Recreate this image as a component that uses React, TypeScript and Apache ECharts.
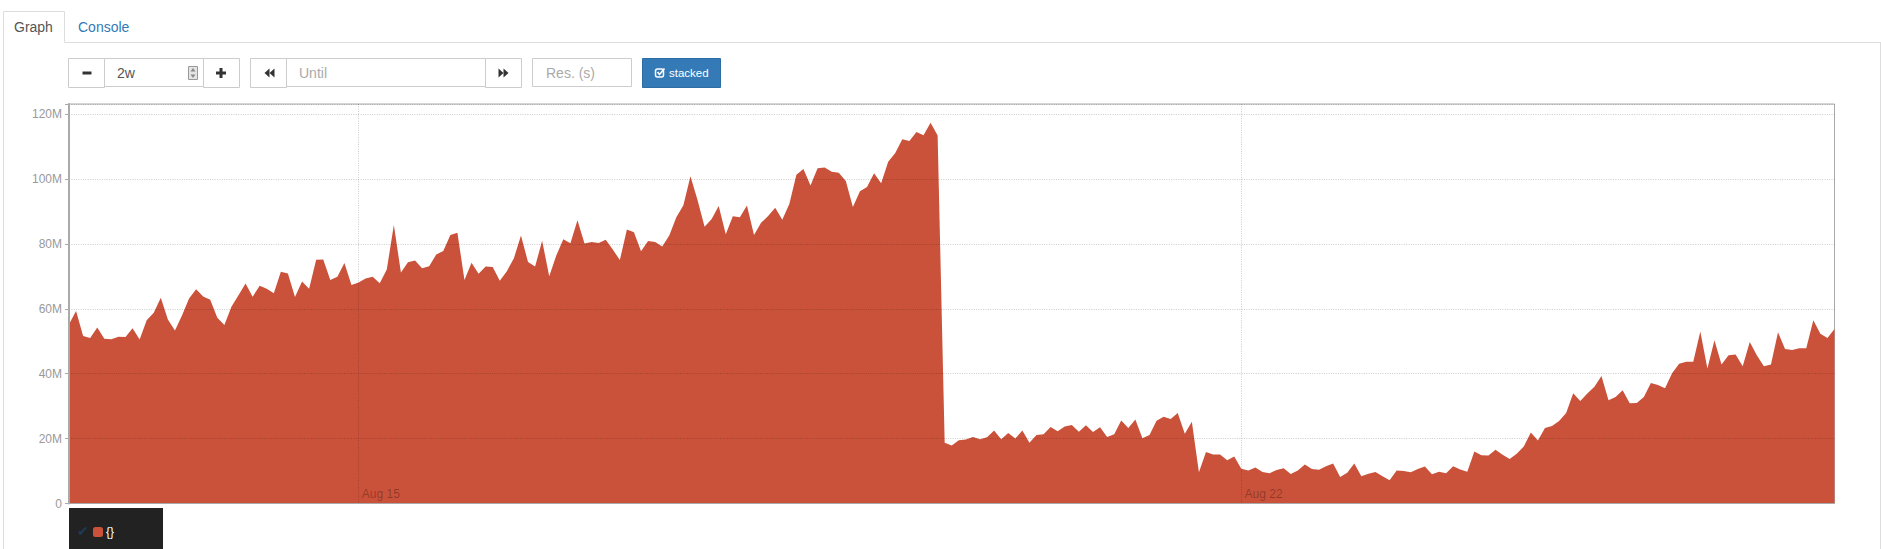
import React, { useEffect, useRef } from "react";
import * as echarts from "echarts";

const seriesName = "{}";
const firstSample = Date.UTC(2017, 7, 15) - 2.294 * 86400000;
const lastSample = firstSample + 14 * 86400000;

// values in millions
const valuesM = [
  55.2, 59.3, 51.6, 51, 54.2, 50.8, 50.6, 51.4, 51.3, 54, 50.5, 56.5, 58.8, 63.4, 56.7, 53.3,
  57.9, 63.2, 66, 63.8, 62.8, 57.2, 55, 60.6, 64.2, 67.8, 63.7, 67.1, 66.2, 64.8, 71.4, 70.9,
  63.6, 68.4, 66.2, 75.1, 75.2, 68.9, 69.9, 74.1, 67.3, 68.1, 69.3, 69.9, 67.9, 72.1, 85.8, 71.2,
  74.3, 74.9, 72.5, 73.1, 76.7, 77.8, 82.7, 83.4, 68.9, 74.2, 70.8, 73, 72.9, 68.6,
  71.6, 75.6, 82.6, 74.4, 73, 81, 70, 76.4, 81.4, 80.2, 87.3, 80.1, 80.6, 80.3, 81.3, 78.3,
  75, 84.4, 83.6, 77.7, 80.9, 80.6, 79.2, 82.6, 88.2, 91.9, 100.8, 93.5, 85.3, 87.7, 91.7, 83,
  88.5, 88.2, 91.8, 82.7, 86.5, 88.6, 91.1, 87.4, 92.3, 101.3, 103.1, 98, 103.3, 103.5, 102.2, 101.9,
  99.4, 91.4, 96.2, 97.5, 101.8, 98.7, 105.3, 108, 112.2, 111.7, 114.5, 113.5, 117.3, 113.4,
  18.7, 17.9, 19.5, 19.7, 20.5, 19.8, 20.4, 22.5, 19.8, 21.7, 20, 22.5, 18.7, 21.1, 21.3, 23.6,
  22.3, 23.7, 24.2, 22.1, 24.1, 22, 23.5, 20.5, 21.3, 25.6, 23.3, 25.9, 20.1, 21.1, 25.5, 26.7,
  26, 27.9, 21.5, 25.2, 9.6, 15.9, 15.1, 15.1, 13.3, 14.5, 10.7, 10.2, 11.1, 9.7, 9.3, 10.3,
  10.9, 9.1, 10.2, 12, 10.6, 10.4, 11.5, 12.3, 8.2, 9.5, 12.3, 8.4, 9.2, 9.7, 8.4, 7.2, 10.2,
  10, 9.6, 10.6, 11.4, 9, 9.8, 9.3, 11.5, 10.5, 9.8, 16, 14.9, 14.8, 16.6, 15, 13.7, 15.3,
  17.6, 21.9, 19.4, 23.3, 23.9, 25.4, 27.9, 34, 31.6, 33.9, 36, 39.3, 31.8, 32.8, 34.9, 30.9,
  31, 32.8, 37.1, 36.5, 35.5, 40.1, 43.1, 43.7, 43.7, 53, 41.6, 50.3, 42.8, 45.7, 45.9, 42.3,
  49.8, 45.7, 42.3, 42.8, 52.8, 47.6, 47.3, 47.8, 47.8, 56.5, 52.3, 51, 53.8,
];

const xTickTimes = [Date.UTC(2017, 7, 15), Date.UTC(2017, 7, 22)];
const xTickLabels = ["Aug 15", "Aug 22"];
const yTickStep = 20e6;
const yMax = 123.1e6;

const SANS = '"Liberation Sans", Arial, sans-serif';
const RED = "#cb523a";
const BORDER = "#ccc";
const GRIDLINE = { color: "rgba(0,0,0,0.2)", type: [1, 1.35], width: 1 };

const box = (x: number, y: number, w: number, h: number, stroke = BORDER, fill = "#fff") => ({
  type: "rect",
  shape: { x, y, width: w, height: h },
  style: { fill, stroke, lineWidth: 1 },
});
const hline = (x1: number, x2: number, y: number, stroke = "#ddd") => ({
  type: "line",
  shape: { x1, y1: y, x2, y2: y },
  style: { stroke, lineWidth: 1 },
});
const vline = (x: number, y1: number, y2: number, stroke = "#ddd") => ({
  type: "line",
  shape: { x1: x, y1, x2: x, y2 },
  style: { stroke, lineWidth: 1 },
});
const label = (text: string, x: number, y: number, fill: string, size = 14) => ({
  type: "text",
  x,
  y,
  style: { text, fill, font: `${size}px ${SANS}`, align: "left", verticalAlign: "middle" },
});
const solid = (x: number, y: number, w: number, h: number, fill = "#333") => ({
  type: "rect",
  shape: { x, y, width: w, height: h },
  style: { fill },
});
const tri = (pts: number[][], fill = "#333") => ({
  type: "polygon",
  shape: { points: pts },
  style: { fill },
});

const toolbar = [
  // tabs and panel
  hline(64.5, 1881, 42.5),
  vline(3.5, 42, 549),
  vline(1880.5, 42, 549),
  { type: "polyline", shape: { points: [[3.5, 42], [3.5, 11.5], [64.5, 11.5], [64.5, 42]] }, style: { stroke: "#ddd", fill: "none", lineWidth: 1 } },
  label("Graph", 14, 27, "#555"),
  label("Console", 78, 27, "#337ab7"),

  // range
  box(104.5, 58.5, 99, 28),
  box(68.5, 58.5, 36, 29),
  box(203.5, 58.5, 36, 29),
  solid(82.5, 71.5, 9, 3),
  solid(216, 71.5, 10, 3),
  solid(219.5, 68, 3, 10),
  label("2w", 117, 73, "#555"),
  box(188.5, 66.5, 9, 13, "#999", "#e4e4e4"),
  tri([[193, 68], [195.5, 71.5], [190.5, 71.5]], "#888"),
  tri([[193, 78], [195.5, 74.5], [190.5, 74.5]], "#888"),

  // until
  box(286.5, 58.5, 199, 28),
  box(250.5, 58.5, 36, 29),
  box(485.5, 58.5, 36, 29),
  tri([[264.5, 73], [269.5, 68.5], [269.5, 77.5]]),
  tri([[269.5, 73], [274.5, 68.5], [274.5, 77.5]]),
  tri([[508.5, 73], [503.5, 68.5], [503.5, 77.5]]),
  tri([[503.5, 73], [498.5, 68.5], [498.5, 77.5]]),
  label("Until", 299, 73, "#aaa"),

  // resolution
  box(532.5, 58.5, 99, 28),
  label("Res. (s)", 546, 73, "#aaa"),

  // stacked
  { type: "rect", shape: { x: 642.5, y: 58.5, width: 78, height: 29 }, style: { fill: "#337ab7", stroke: "#2e6da4" } },
  { type: "rect", shape: { x: 655.5, y: 69, width: 8, height: 8, r: 2 }, style: { fill: "none", stroke: "#fff", lineWidth: 1.5 } },
  { type: "polyline", shape: { points: [[657.5, 72], [659.5, 74.5], [664.5, 68.5]] }, style: { fill: "none", stroke: "#fff", lineWidth: 1.6 } },
  label("stacked", 669, 73, "#fff", 11.5),

  // legend tick
  {
    type: "text",
    x: 77,
    y: 531,
    z: 200,
    style: { text: "\u2714", fill: "#1e3a55", font: '14px "DejaVu Sans"', align: "left", verticalAlign: "middle" },
  },
];

export default function App() {
  const ref = useRef<HTMLDivElement>(null);
  useEffect(() => {
    const chart = echarts.init(ref.current!, undefined, { renderer: "svg" });
    const step = (lastSample - firstSample) / (valuesM.length - 1);
    const data = valuesM.map((v, i) => [firstSample + i * step, v * 1e6]);
    chart.setOption({
      animation: false,
      backgroundColor: "#fff",
      textStyle: { fontFamily: SANS },
      grid: {
        left: 69,
        top: 104,
        width: 1765.5,
        height: 399.5,
        show: true,
        borderColor: "#aaa",
        borderWidth: 1,
        backgroundColor: "#fff",
      },
      legend: {
        left: 69,
        top: 508,
        padding: [18, 49, 13, 24],
        itemWidth: 10,
        itemHeight: 10,
        icon: "roundRect",
        backgroundColor: "#222",
        selectedMode: false,
        textStyle: { color: "#fff", fontSize: 12, fontFamily: SANS, padding: [0, 0, 0, -2] },
        data: [seriesName],
      },
      xAxis: {
        type: "value",
        min: firstSample,
        max: lastSample,
        z: 5,
        axisLine: { show: true, onZero: false, lineStyle: { color: "#aaa", width: 1 } },
        axisTick: { show: false, customValues: xTickTimes },
        splitLine: { show: true, lineStyle: GRIDLINE },
        axisLabel: {
          inside: true,
          customValues: xTickTimes,
          margin: 4,
          align: "left",
          padding: [0, 0, 0, 3.5],
          color: "rgba(0,0,0,0.3)",
          fontSize: 12,
          fontFamily: SANS,
          formatter: (v: number) => xTickLabels[xTickTimes.indexOf(v)] ?? "",
        },
      },
      yAxis: {
        type: "value",
        min: 0,
        max: yMax,
        interval: yTickStep,
        z: 5,
        axisLine: { show: true, lineStyle: { color: "#aaa", width: 2 } },
        axisTick: { show: true, length: 4, lineStyle: { color: "#aaa" } },
        splitLine: { show: true, lineStyle: GRIDLINE },
        axisLabel: {
          margin: 7,
          color: "#999",
          fontSize: 12,
          fontFamily: SANS,
          formatter: (v: number) => (v === 0 ? "0" : v % yTickStep === 0 ? `${v / 1e6}M` : ""),
        },
      },
      series: [
        {
          name: seriesName,
          type: "line",
          data,
          showSymbol: false,
          symbol: "none",
          itemStyle: { color: RED },
          lineStyle: { width: 0, color: RED },
          areaStyle: { color: RED, opacity: 1 },
          z: 2,
        },
      ],
      graphic: { elements: toolbar },
    });
    return () => chart.dispose();
  }, []);
  return (
    <div style={{ position: "fixed", left: 0, top: 0, width: 1881, height: 549, overflow: "hidden", background: "#fff" }}>
      <div ref={ref} style={{ width: 1881, height: 549 }} />
    </div>
  );
}
